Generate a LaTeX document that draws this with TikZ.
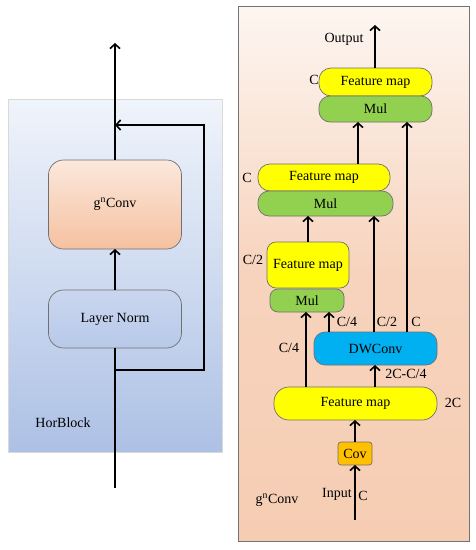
\documentclass[tikz,border=0pt]{standalone}
\usepackage{fontspec}
\setmainfont{Liberation Serif}
\usetikzlibrary{arrows.meta}
\definecolor{bord}{HTML}{707070}
\definecolor{fmyel}{HTML}{FFFF00}
\definecolor{mulgreen}{HTML}{92D050}
\definecolor{dwblue}{HTML}{00B0F0}
\definecolor{covorange}{HTML}{FFC000}
\definecolor{blTop}{HTML}{F0F4FB}
\definecolor{blBot}{HTML}{ADC1E5}
\definecolor{orTop}{HTML}{FDF6F1}
\definecolor{orMid}{HTML}{F7D3BD}
\definecolor{orBot}{HTML}{F6CDB3}
\definecolor{gnTop}{HTML}{FBE8DC}
\definecolor{gnBot}{HTML}{F5C1A0}
\definecolor{lnTop}{HTML}{CAD6EF}
\definecolor{lnBot}{HTML}{B8C9E9}
\begin{document}
\begin{tikzpicture}[x=1pt,y=-1pt,
  font=\fontsize{14}{16}\selectfont,
  box/.style={draw=bord,line width=0.7pt,inner sep=0pt,outer sep=0pt},
  fmbox/.style={box,fill=fmyel,rounded corners=12pt},
  mulbox/.style={box,fill=mulgreen,rounded corners=11pt},
  arr/.style={line width=1.8pt,-{Straight Barb[length=4.5pt,width=10pt,line width=1.6pt]}},
  ln/.style={line width=1.8pt},
  lbl/.style={inner sep=0pt}]
\useasboundingbox (0,0) rectangle (475,550);
% left panel
\node[draw=black!15,line width=0.6pt,top color=blTop,bottom color=blBot,minimum width=214pt,minimum height=353pt,inner sep=0pt] (bgL) at (115,275.5) {};
\node[box,rounded corners=15pt,top color=gnTop,bottom color=gnBot,minimum width=133pt,minimum height=89pt] (gn) at (115,204.5) {g\textsuperscript{n}Conv};
\node[box,rounded corners=15pt,top color=lnTop,bottom color=lnBot,minimum width=133pt,minimum height=58pt] (lnorm) at (115,319) {Layer Norm};
\node[lbl] (hor) at (63,423) {HorBlock};
\coordinate (lbot) at (115,488);
\coordinate (ltop) at (115,43);
\coordinate (split) at (115,370);
\coordinate (c1) at (204,370);
\coordinate (c2) at (204,125);
\coordinate (join) at (115,125);
\draw[ln] (lbot) -- (lnorm.south);
\draw[arr] (lnorm.north) -- (gn.south);
\draw[arr] (gn.north) -- (ltop);
\draw[arr] (split) -- (c1) -- (c2) -- (join);
% right panel
\node[draw=black!55,line width=0.8pt,shading=axis,top color=orTop,bottom color=orBot,middle color=orMid,minimum width=231pt,minimum height=535pt,inner sep=0pt] (bgR) at (353.5,273.5) {};
\node[lbl] (cA) at (314,80) {C};
\node[fmbox,minimum width=113pt,minimum height=28pt] (fm1) at (375.5,82) {Feature map};
\node[mulbox,minimum width=113pt,minimum height=26pt] (mul1) at (375.5,109) {Mul};
\node[fmbox,minimum width=132pt,minimum height=27pt] (fm2) at (324,177.5) {Feature map};
\node[mulbox,minimum width=135pt,minimum height=25pt] (mul2) at (325.5,203.5) {Mul};
\node[fmbox,rounded corners=9pt,minimum width=82pt,minimum height=46pt] (fm3) at (308,265) {Feature map};
\node[mulbox,rounded corners=8pt,minimum width=74pt,minimum height=23pt] (mul3) at (307,300.5) {Mul};
\node[box,fill=dwblue,rounded corners=11pt,minimum width=123pt,minimum height=33pt] (dw) at (375.5,348.5) {DWConv};
\node[fmbox,rounded corners=15pt,minimum width=163pt,minimum height=33pt] (fm4) at (355.5,403.5) {Feature map};
\node[box,fill=covorange,rounded corners=3pt,minimum width=34pt,minimum height=23pt] (cov) at (355,453.5) {Cov};
% labels
\node[lbl] (out) at (344,39) {Output};
\node[lbl] (cB) at (247,178) {C};
\node[lbl] (cC) at (253,260) {C/2};
\node[lbl] (l2c) at (453,403) {2C};
\node[lbl] (lin) at (337,494) {Input};
\node[lbl] (lc) at (363,496) {C};
\node[lbl] (lgn) at (277,500) {g\textsuperscript{n}Conv};
\node[lbl] (l2cc) at (406,374) {2C-C/4};
\node[lbl] (lq1) at (289,348) {C/4};
\node[lbl] (lq2) at (347,322) {C/4};
\node[lbl] (lh) at (387,322) {C/2};
\node[lbl] (lcc) at (416,322) {C};
% x positions
\coordinate (x306) at (306,0);
\coordinate (x308) at (308,0);
\coordinate (x329) at (329,0);
\coordinate (x358) at (358,0);
\coordinate (x374) at (374,0);
\coordinate (x375) at (375,0);
\coordinate (x407) at (407,0);
\coordinate (inb) at (355,520);
\coordinate (outt) at (375,25);
% connectors
\draw[arr] (inb) -- (cov.south);
\draw[arr] (cov.north) -- (fm4.south -| cov.north);
\draw[arr] (fm4.north -| x375) -- (dw.south -| x375);
\draw[arr] (fm4.north -| x306) -- (mul3.south -| x306);
\draw[arr] (dw.north -| x329) -- (mul3.south -| x329);
\draw[arr] (fm3.north -| x308) -- (mul2.south -| x308);
\draw[arr] (dw.north -| x374) -- (mul2.south -| x374);
\draw[arr] (dw.north -| x407) -- (mul1.south -| x407);
\draw[arr] (fm2.north -| x358) -- (mul1.south -| x358);
\draw[arr] (fm1.north -| x375) -- (outt);
\end{tikzpicture}
\end{document}
